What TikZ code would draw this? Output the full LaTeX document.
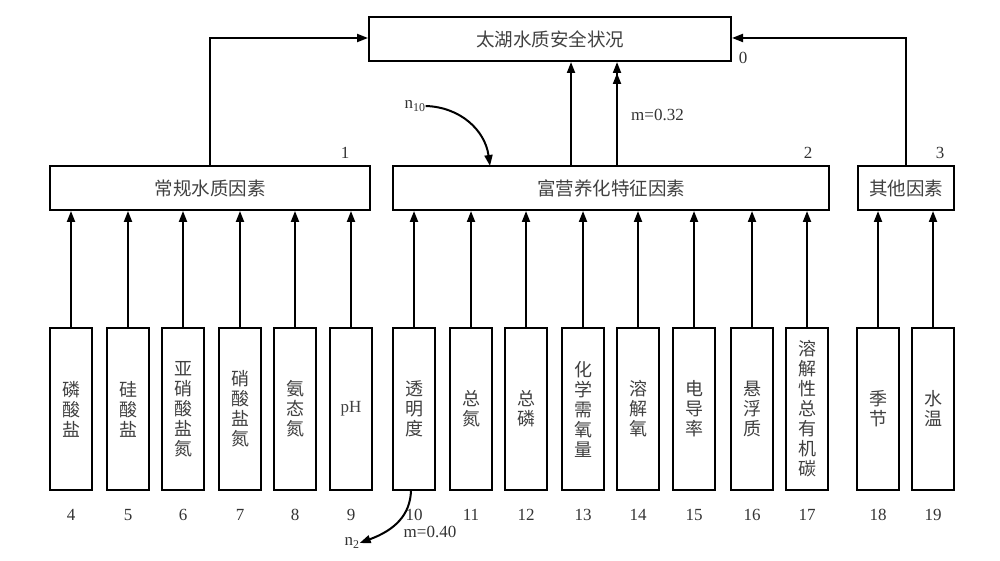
\documentclass[tikz,border=0pt]{standalone}
\usepackage{fontspec}
\setmainfont{Liberation Serif}
\newfontfamily\cjk{Noto Sans CJK SC}
\usetikzlibrary{arrows.meta}
\begin{document}
\begin{tikzpicture}[x=1pt,y=-1pt,
 mainbox/.style={draw,line width=2pt,minimum height=44pt,inner sep=0pt,font=\cjk\fontsize{18.5}{20}\selectfont,text=black!75},
 leafbox/.style={draw,line width=2pt,minimum width=42pt,minimum height=162pt,inner sep=0pt,align=center,font=\cjk\fontsize{18}{20}\selectfont,text=black!75},
 numlbl/.style={font=\fontsize{17}{17}\selectfont,text=black!80,inner sep=0pt},
 uparr/.style={line width=2pt,-{Triangle[length=11pt,width=8pt]}},
]
\useasboundingbox (0,0) rectangle (1000,561);
% top level
\node[mainbox,minimum width=362pt] (b0) at (550,39) {太湖水质安全状况};
\node[mainbox,minimum width=320pt] (b1) at (210,188) {常规水质因素};
\node[mainbox,minimum width=436pt] (b2) at (611,188) {富营养化特征因素};
\node[mainbox,minimum width=96pt] (b3) at (906,188) {其他因素};
% leaf boxes
\node[leafbox] (b4) at (71,409) {磷\\酸\\盐};
\node[leafbox] (b5) at (128,409) {硅\\酸\\盐};
\node[leafbox] (b6) at (183,409) {亚\\硝\\酸\\盐\\氮};
\node[leafbox] (b7) at (240,409) {硝\\酸\\盐\\氮};
\node[leafbox] (b8) at (295,409) {氨\\态\\氮};
\node[leafbox,font=\fontsize{17}{17}\selectfont] (b9) at (351,409) {pH};
\node[leafbox] (b10) at (414,409) {透\\明\\度};
\node[leafbox] (b11) at (471,409) {总\\氮};
\node[leafbox] (b12) at (526,409) {总\\磷};
\node[leafbox] (b13) at (583,409) {化\\学\\需\\氧\\量};
\node[leafbox] (b14) at (638,409) {溶\\解\\氧};
\node[leafbox] (b15) at (694,409) {电\\导\\率};
\node[leafbox] (b16) at (752,409) {悬\\浮\\质};
\node[leafbox] (b17) at (807,409) {溶\\解\\性\\总\\有\\机\\碳};
\node[leafbox] (b18) at (878,409) {季\\节};
\node[leafbox] (b19) at (933,409) {水\\温};
% numbers
\node[numlbl] (l0) at (743,58) {0};
\node[numlbl] (l1) at (345,153) {1};
\node[numlbl] (l2) at (808,153) {2};
\node[numlbl] (l3) at (940,153) {3};
\foreach \i in {4,...,19}{
  \node[numlbl] (n\i) at (b\i.south |- 0,515) {\i};
}
% leaf arrows
\foreach \i in {4,...,9}{ \draw[uparr] (b\i.north) -- (b\i.north |- b1.south); }
\foreach \i in {10,...,17}{ \draw[uparr] (b\i.north) -- (b\i.north |- b2.south); }
\foreach \i in {18,19}{ \draw[uparr] (b\i.north) -- (b\i.north |- b3.south); }
% to top
\coordinate (ytop) at (0,38);
\draw[uparr] (b1.north) -- (b1.north |- ytop) -- (b0.west |- ytop);
\draw[uparr] (b3.north) -- (b3.north |- ytop) -- (b0.east |- ytop);
\coordinate (xa) at (571,0);
\coordinate (xb) at (617,0);
\draw[uparr] (b2.north -| xa) -- (b0.south -| xa);
\draw[line width=2pt,-{Triangle[length=11pt,width=8pt] Triangle[length=11pt,width=8pt]}] (b2.north -| xb) -- (b0.south -| xb);
\node[numlbl,anchor=west] (m32) at (631,115) {m=0.32};
% n10
\node[numlbl] (n10lbl) at (415,106) {n\textsubscript{10}};
\coordinate (n10tip) at (490,166);
\draw[line width=2pt,-{Triangle[length=11pt,width=8pt]}] (n10lbl.east) .. controls (460,107) and (485,130) .. (n10tip);
% n2
\node[numlbl] (n2lbl) at (352,543) {n\textsubscript{2}};
\node[numlbl] (m40) at (430,532) {m=0.40};
\draw[line width=2pt,-{Triangle[length=11pt,width=8pt]}] (b10.south -| 411,0) .. controls (410,515) and (395,530) .. (n2lbl.east);
\end{tikzpicture}
\end{document}
